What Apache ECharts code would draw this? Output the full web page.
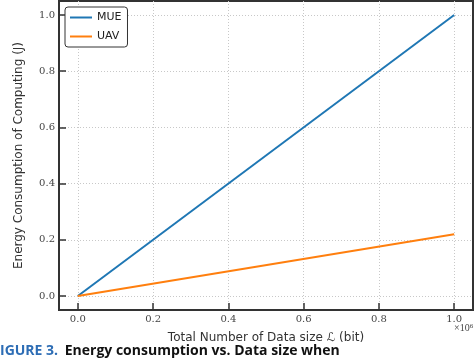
<!DOCTYPE html>
<html><head><meta charset="utf-8">
<script src="https://cdn.jsdelivr.net/npm/echarts@6/dist/echarts.min.js"></script>
<style>html,body{margin:0;padding:0;background:#fff}#c{width:474px;height:363px}</style>
</head><body><div id="c"></div>
<script>
// data size in units of 10^6 bit
const dataSize = [0.0, 1.0];
const mueEnergy = [0.0, 1.0];
const uavEnergy = [0.0, 0.22];
const xTicks = [0.0, 0.2, 0.4, 0.6, 0.8, 1.0];
const yTicks = [0.0, 0.2, 0.4, 0.6, 0.8, 1.0];
const seriesNames = ['MUE', 'UAV'];

const chart = echarts.init(document.getElementById('c'));
const serif = 'DejaVu Serif';
const sans = 'DejaVu Sans';
const gridLine = {show: true, lineStyle: {color: '#c8c8c8', type: [1, 2], width: 1}};
const frameLine = {show: true, onZero: false, lineStyle: {color: '#333', width: 2}};
chart.setOption({
  animation: false,
  color: ['#1f77b4', '#ff7f0e'],
  grid: {left: 59, right: 1, top: 1, bottom: 53, show: true, borderColor: '#333', borderWidth: 2, backgroundColor: 'transparent'},
  legend: {
    left: 65, top: 7, orient: 'vertical', itemWidth: 22, itemHeight: 2, itemGap: 8,
    padding: [5, 6, 5, 5], borderColor: '#333', borderWidth: 1, borderRadius: 3, backgroundColor: '#fff',
    textStyle: {fontFamily: sans, fontSize: 11, color: '#222'},
    data: seriesNames.map(n => ({name: n, icon: 'rect'}))
  },
  xAxis: {
    type: 'value', min: -0.05, max: 1.05,
    name: 'Total Number of Data size ℒ (bit)', nameLocation: 'middle', nameGap: 22,
    nameTextStyle: {fontFamily: sans, fontSize: 12, color: '#333'},
    axisLine: frameLine,
    axisTick: {show: true, inside: true, length: 7, customValues: xTicks, lineStyle: {color: '#333', width: 1.5}},
    axisLabel: {customValues: xTicks, formatter: v => v.toFixed(1), fontFamily: serif, fontSize: 10, color: '#444', margin: 4},
    splitLine: gridLine
  },
  yAxis: {
    type: 'value', min: -0.05, max: 1.05,
    name: 'Energy Consumption of Computing (J)', nameLocation: 'middle', nameGap: 34,
    nameTextStyle: {fontFamily: sans, fontSize: 12, color: '#333'},
    axisLine: frameLine,
    axisTick: {show: true, inside: true, length: 7, customValues: yTicks, lineStyle: {color: '#333', width: 1.5}},
    axisLabel: {customValues: yTicks, formatter: v => v.toFixed(1), fontFamily: serif, fontSize: 10, color: '#444', margin: 4},
    splitLine: gridLine
  },
  series: [
    {name: seriesNames[0], type: 'line', data: dataSize.map((x, i) => [x, mueEnergy[i]]), showSymbol: false, lineStyle: {width: 2}},
    {name: seriesNames[1], type: 'line', data: dataSize.map((x, i) => [x, uavEnergy[i]]), showSymbol: false, lineStyle: {width: 2}}
  ],
  graphic: [
    {type: 'text', left: 454, top: 323, style: {text: '×10{s|6}', rich: {s: {fontSize: 7, verticalAlign: 'top', fontFamily: 'Liberation Serif', fill: '#444'}}, fontFamily: 'Liberation Serif', fontSize: 10, fill: '#444'}},
    {type: 'text', left: 0, top: 344, style: {text: '{a|IGURE 3.}  {b|Energy consumption vs. Data size when}', rich: {
      a: {fontFamily: 'Open Sans', fontWeight: 'bold', fontSize: 14, fill: '#2d6db5'},
      b: {fontFamily: 'Open Sans', fontWeight: 'bold', fontSize: 14, fill: '#111'}}}}
  ]
});
</script></body></html>
